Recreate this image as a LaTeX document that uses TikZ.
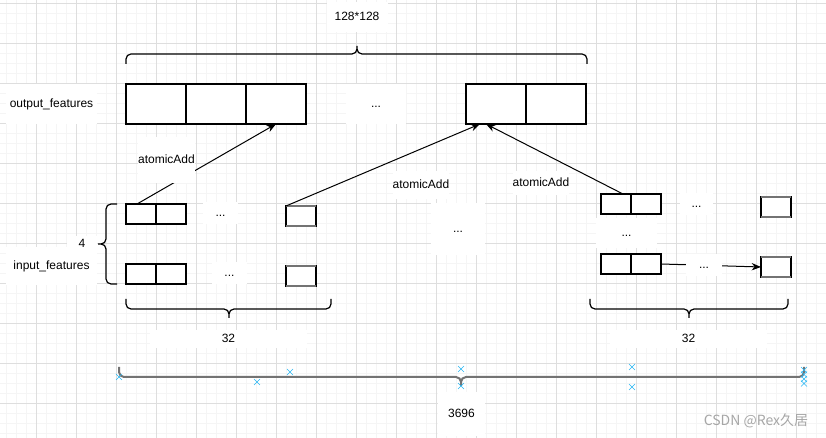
\documentclass[tikz,border=0pt]{standalone}
\usepackage{fontspec}
\setmainfont{Liberation Sans}
\newfontfamily\cjk{Noto Sans CJK SC}
\usetikzlibrary{positioning,arrows.meta,shapes.misc}
\definecolor{handleblue}{HTML}{29B6F2}
\definecolor{wmgray}{HTML}{A6A6A6}

\tikzset{
  cell/.style={draw, fill=white, line width=1pt, inner sep=0pt, outer sep=0pt, minimum width=45pt, minimum height=30pt},
  smallcell/.style={draw, fill=white, line width=1pt, inner sep=0pt, outer sep=0pt, minimum width=22.5pt, minimum height=15pt},
  tag/.style={fill=white, inner sep=0pt, font=\fontsize{9}{11}\selectfont, text height=6.5pt, text depth=1.9pt},
  feed/.style={line width=0.75pt, -{Stealth[length=7pt,width=5.5pt]}},
  bracket/.style={line width=0.9pt, rounded corners=3.75pt},
  edgegray/.style={line width=1.5pt, black!55},
  finegrid/.style={line width=0.75pt, black!4},
  majorgrid/.style={line width=0.75pt, black!13},
  handle/.style={draw=handleblue, cross out, line width=0.5pt, minimum size=4pt, inner sep=0pt},
}

\begin{document}
\begin{tikzpicture}[x=0.75pt, y=-0.75pt]
  % Canvas of the reference, in px (y grows downwards)
  \def\px{0.75pt}
  \useasboundingbox (0,0) rectangle (826,438);

  % Drawing the background grid (fine every 10px, major every 40px)
  \foreach \gx in {6.5,16.5,...,826} \draw[finegrid] (\gx,0) -- (\gx,438);
  \foreach \gy in {3.5,13.5,...,438} \draw[finegrid] (0,\gy) -- (826,\gy);
  \foreach \gx in {36.5,76.5,...,826} \draw[majorgrid] (\gx,0) -- (\gx,438);
  \foreach \gy in {3.5,43.5,...,438} \draw[majorgrid] (0,\gy) -- (826,\gy);

  % Drawing the braces
  \draw[bracket] (126,64) -- (126,54) -- (357,54) -- (357,46)
                 (587,64) -- (587,54) -- (357,54) -- (357,46);
  \draw[bracket] (117,204) -- (106,204) -- (106,244) -- (98,244)
                 (117,284) -- (106,284) -- (106,244) -- (98,244);
  \draw[bracket] (126,299) -- (126,309) -- (229,309) -- (229,318)
                 (331,299) -- (331,309) -- (229,309) -- (229,318);
  \draw[bracket] (590,299) -- (590,309) -- (689,309) -- (689,318)
                 (788,299) -- (788,309) -- (689,309) -- (689,318);
  \draw[bracket, black!55, line width=1.5pt]
                 (119,367) -- (119,377) -- (461,377) -- (461,386)
                 (804,367) -- (804,377) -- (461,377) -- (461,386);

  % Drawing the output_features cells
  \node[cell] (o1) at (156,104) {};
  \node[cell, right=0pt of o1] (o2) {};
  \node[cell, right=0pt of o2] (o3) {};
  \node[cell] (p1) at (496,104) {};
  \node[cell, right=0pt of p1] (p2) {};

  % Drawing the input_features cells
  \node[smallcell] (a1) at (141,214) {};
  \node[smallcell, right=0pt of a1] (a2) {};
  \node[smallcell] (as) at (301,216) {};
  \node[smallcell] (b1) at (141,274) {};
  \node[smallcell, right=0pt of b1] (b2) {};
  \node[smallcell] (bs) at (301,276) {};
  \node[smallcell] (c1) at (616,204) {};
  \node[smallcell, right=0pt of c1] (c2) {};
  \node[smallcell] (cs) at (776,207) {};
  \node[smallcell] (d1) at (616,264) {};
  \node[smallcell, right=0pt of d1] (d2) {};
  \node[smallcell] (ds) at (776,267) {};
  \foreach \n in {as,bs,cs,ds}
    \draw[edgegray] (\n.north west) -- (\n.north east) (\n.south west) -- (\n.south east);

  % Drawing the atomicAdd arrows
  \draw[feed] ([xshift=-3pt]a1.north) -- (o3.south);
  \draw[feed] (as.north west) -- ([xshift=-12pt]p1.south);
  \draw[feed] ([xshift=5.25pt]c1.north) -- ([xshift=-7.5pt]p1.south);
  \draw[feed] (d2.east) -- node[tag, pos=0.43, minimum width=36*\px, minimum height=22*\px] (dots6) {...} (ds.west);

  % Drawing the texts
  \node[tag, minimum width=61*\px, minimum height=30*\px] (size) at (357,17) {128*128};
  \node[tag, minimum width=91*\px, minimum height=40*\px] (outname) at (51.5,104) {output\_features};
  \node[tag, minimum width=60*\px, minimum height=40*\px] (dots1) at (376,104) {...};
  \node[tag, minimum width=41*\px, minimum height=46*\px] (add1) at (166.5,160) {atomicAdd};
  \node[tag, minimum width=52*\px, minimum height=28*\px] (add2) at (421,185) {atomicAdd};
  \node[tag, minimum width=53*\px, minimum height=24*\px] (add3) at (541,183) {atomicAdd};
  \node[tag, minimum width=54*\px, minimum height=52*\px] (dots2) at (458,229) {...};
  \node[tag, minimum width=61*\px, minimum height=30*\px] (dots3) at (626.5,233) {...};
  \node[tag, minimum width=35*\px, minimum height=22*\px] (dots4) at (220.5,213) {...};
  \node[tag, minimum width=35*\px, minimum height=22*\px] (dots5) at (229.5,273) {...};
  \node[tag, minimum width=33*\px, minimum height=22*\px] (dots7) at (696.5,204) {...};
  \node[tag, minimum width=30*\px, minimum height=15*\px] (rows) at (82,244) {4};
  \node[tag, minimum width=91*\px, minimum height=38*\px] (inname) at (51.5,266.5) {input\_features};
  \node[tag, minimum width=157*\px, minimum height=18*\px] (cols1) at (228.5,339) {32};
  \node[tag, minimum width=157*\px, minimum height=18*\px] (cols2) at (688.5,339) {32};
  \node[tag, minimum width=47*\px, minimum height=44*\px] (total) at (461.5,414) {3696};

  % Selection handles left in the screenshot
  \foreach \hx/\hy [count=\k] in {119/377, 257/382, 290/372, 461/369, 461/386, 632/367, 632/387,
                                  804/370, 804/374.5, 804/379, 804/383.5}
    \node[handle] (h\k) at (\hx,\hy) {};

  % Watermark
  \node[text=wmgray, font=\cjk\fontsize{10.5}{12}\selectfont] (mark) at (756,421) {CSDN @Rex久居};
\end{tikzpicture}
\end{document}
